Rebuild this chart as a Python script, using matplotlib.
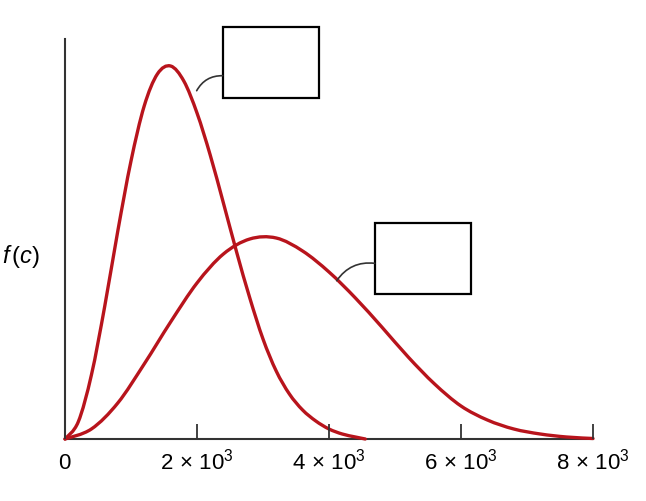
import numpy as np
import matplotlib
matplotlib.use('Agg')
import matplotlib.pyplot as plt
from matplotlib.patches import Rectangle, FancyArrowPatch, PathPatch
from matplotlib.path import Path

plt.rcParams['font.family'] = ['Liberation Sans', 'DejaVu Sans']
plt.rcParams['mathtext.fontset'] = 'custom'
plt.rcParams['mathtext.rm'] = 'Liberation Sans'
plt.rcParams['mathtext.it'] = 'Liberation Sans:italic'

# speed c (m/s) and f(c) in arbitrary units
c_low = [0, 200, 400, 600, 800, 1000, 1200, 1400, 1600, 1800, 2000, 2200,
         2400, 2600, 2800, 3000, 3200, 3400, 3600, 3800, 4000, 4200, 4400, 4550]
f_low = [0, 0.17, 0.64, 1.32, 2.08, 2.78, 3.33, 3.65, 3.73, 3.58, 3.26, 2.84,
         2.36, 1.87, 1.41, 1.00, 0.68, 0.45, 0.29, 0.18, 0.10, 0.05, 0.02, 0]

c_high = [0, 400, 800, 1200, 1600, 2000, 2400, 2800, 3200, 3600, 4000, 4400,
          4800, 5200, 5600, 6000, 6400, 6800, 7200, 7600, 8000]
f_high = [0, 0.10, 0.36, 0.75, 1.17, 1.56, 1.85, 2.00, 2.01, 1.88, 1.67, 1.41,
          1.12, 0.82, 0.55, 0.33, 0.19, 0.10, 0.05, 0.02, 0.005]

xticks = [0, 2000, 4000, 6000, 8000]
xticklabels = [r'$0$', r'$2\,\times\,10^3$', r'$4\,\times\,10^3$',
               r'$6\,\times\,10^3$', r'$8\,\times\,10^3$']

red = '#b8141c'
axcol = '#333333'


def smooth_path(xs, ys):
    # bezier segments through the read points (catmull-rom style handles)
    p = np.column_stack([xs, ys]).astype(float)
    verts = [p[0]]
    codes = [Path.MOVETO]
    n = len(p)
    for i in range(n - 1):
        p0 = p[max(i - 1, 0)]
        p1 = p[i]
        p2 = p[i + 1]
        p3 = p[min(i + 2, n - 1)]
        verts += [p1 + (p2 - p0) / 6, p2 - (p3 - p1) / 6, p2]
        codes += [Path.CURVE4] * 3
    return Path(verts, codes)


fig = plt.figure(figsize=(6.46, 5.02), dpi=100)
ax = fig.add_axes([65/646, 62/502, 528/646, 400/502])

for xs, ys in [(c_low, f_low), (c_high, f_high)]:
    ax.add_patch(PathPatch(smooth_path(xs, ys), fill=False, ec=red, lw=2.4,
                           capstyle='round', joinstyle='round', clip_on=False))

ax.set_xlim(0, 8000)
ax.set_ylim(0, 4.0)
for s in ['top', 'right']:
    ax.spines[s].set_visible(False)
for s in ['left', 'bottom']:
    ax.spines[s].set_color(axcol)
    ax.spines[s].set_linewidth(1.5)
    ax.spines[s].set_zorder(0.5)

ax.set_yticks([])
ax.set_xticks(xticks)
ax.set_xticklabels(xticklabels)
ax.tick_params(axis='x', direction='in', length=11, width=1.3, color=axcol,
               labelsize=16, pad=21)
for lab in ax.get_xticklabels():
    lab.set_verticalalignment('baseline')

fig.text(21/646, 1 - 256/502, r'$f\,(c)$', ha='center', va='center', fontsize=17)

# empty label boxes with leader lines
boxes = [(2389, 3.41, 1464, 0.707), (4692, 1.45, 1464, 0.707)]
for bx, by, bw, bh in boxes:
    ax.add_patch(Rectangle((bx, by), bw, bh, fill=False, ec='black', lw=1.6,
                           clip_on=False))

leaders = [((1995, 3.483), (2389, 3.633)), ((4117, 1.583), (4692, 1.757))]
for p0, p1 in leaders:
    ax.add_patch(FancyArrowPatch(p0, p1, arrowstyle='-', color=axcol, lw=1.2,
                                 connectionstyle='arc3,rad=-0.3',
                                 shrinkA=0, shrinkB=0, clip_on=False))

fig.savefig('out.png', dpi=100, facecolor='white')
